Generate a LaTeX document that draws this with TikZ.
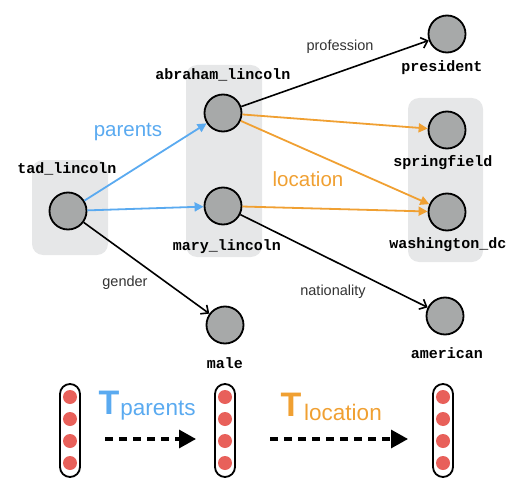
\documentclass[tikz,border=0pt]{standalone}
\usepackage{fontspec}
\setmainfont{Liberation Sans}
\setmonofont{Liberation Mono}
\usetikzlibrary{arrows.meta}
\definecolor{boxgray}{HTML}{E6E7E8}
\definecolor{nodegray}{HTML}{A7A9A9}
\definecolor{kgblue}{HTML}{5AAAF0}
\definecolor{kgorange}{HTML}{F0A032}
\definecolor{dotred}{HTML}{E8605A}
\definecolor{lblgray}{HTML}{333333}
\tikzset{
  ent/.style={circle, draw=black, line width=1.8pt, fill=nodegray, minimum size=37pt, inner sep=0pt},
  entlabel/.style={font=\fontsize{15}{15}\selectfont\ttfamily\bfseries, inner sep=0pt},
  relblack/.style={draw=black, line width=1.6pt, -{Straight Barb[length=6pt,width=11pt,line width=1.6pt]}},
  relblue/.style={draw=kgblue, line width=1.8pt, -{Triangle[length=9pt,width=9pt]}},
  relorange/.style={draw=kgorange, line width=1.8pt, -{Triangle[length=9pt,width=9pt]}},
  rellabel/.style={font=\fontsize{14.5}{14.5}\selectfont, text=lblgray, inner sep=0pt},
  biglabel/.style={font=\fontsize{20.5}{20.5}\selectfont, inner sep=0pt},
  bgbox/.style={fill=boxgray, rounded corners=11pt},
  vecbox/.style={draw=black, line width=1.8pt, rounded corners=10pt, minimum width=20pt, minimum height=93pt, inner sep=0pt, fill=white},
  dot/.style={circle, fill=dotred, minimum size=14pt, inner sep=0pt},
  transarrow/.style={draw=black, line width=3.2pt, dash pattern=on 8pt off 6pt, -{Triangle[length=17pt,width=18pt]}},
}
\begin{document}
\begin{tikzpicture}[x=1pt,y=-1pt]
\useasboundingbox (0,0) rectangle (530,492);
% background boxes
\fill[bgbox] (32,160) rectangle (108,255);
\fill[bgbox] (186,65) rectangle (262,257);
\fill[bgbox] (408,98) rectangle (483,262);
% entities
\node[ent] (tad) at (68,211) {};
\node[ent] (abe) at (223,113) {};
\node[ent] (mary) at (223,206) {};
\node[ent] (pres) at (447,34) {};
\node[ent] (spring) at (447,130) {};
\node[ent] (wash) at (447,212) {};
\node[ent] (male) at (225,325) {};
\node[ent] (amer) at (445,316) {};
% entity labels
\node[entlabel] (ltad) at (67,169) {tad\_lincoln};
\node[entlabel] (labe) at (223,75) {abraham\_lincoln};
\node[entlabel] (lmary) at (227,247) {mary\_lincoln};
\node[entlabel] (lpres) at (442,68) {president};
\node[entlabel] (lspring) at (443,163) {springfield};
\node[entlabel] (lwash) at (448,245) {washington\_dc};
\node[entlabel] (lmale) at (225,363) {male};
\node[entlabel] (lamer) at (447,353) {american};
% relations
\draw[relblue] (tad) -- (abe);
\draw[relblue] (tad) -- (mary);
\draw[relblack] (tad) -- (male);
\draw[relblack] (abe) -- (pres);
\draw[relorange] (abe) -- (spring);
\draw[relorange] (abe) -- (wash);
\draw[relorange] (mary) -- (wash);
\draw[relblack] (mary) -- (amer);
% relation labels
\node[rellabel] (lprof) at (340,47) {profession};
\node[rellabel] (lgender) at (125,283) {gender};
\node[rellabel] (lnat) at (333,292) {nationality};
\node[biglabel, text=kgblue] (lparents) at (128,132) {parents};
\node[biglabel, text=kgorange] (lloc) at (308,179) {location};
% embedding vectors
\foreach \n/\x in {v1/70, v2/225, v3/443} {
  \node[vecbox] (\n) at (\x,430.5) {};
  \foreach \k/\y in {a/397, b/419, c/441, d/463} {
    \node[dot] (\n\k) at (\x,\y) {};
  }
}
% translation operators
\node[font=\fontsize{34}{34}\selectfont\bfseries, text=kgblue, inner sep=0pt] (tp) at (109,403) {T};
\node[font=\fontsize{22.5}{22.5}\selectfont, text=kgblue, inner sep=0pt] (tpsub) at (158,411) {parents};
\node[font=\fontsize{34}{34}\selectfont\bfseries, text=kgorange, inner sep=0pt] (tl) at (291,405) {T};
\node[font=\fontsize{22.5}{22.5}\selectfont, text=kgorange, inner sep=0pt] (tlsub) at (343,412) {location};
\coordinate (a1s) at (105,439);
\coordinate (a1e) at (196,439);
\coordinate (a2s) at (270,439);
\coordinate (a2e) at (408,439);
\draw[transarrow] (a1s) -- (a1e);
\draw[transarrow] (a2s) -- (a2e);
\end{tikzpicture}
\end{document}
